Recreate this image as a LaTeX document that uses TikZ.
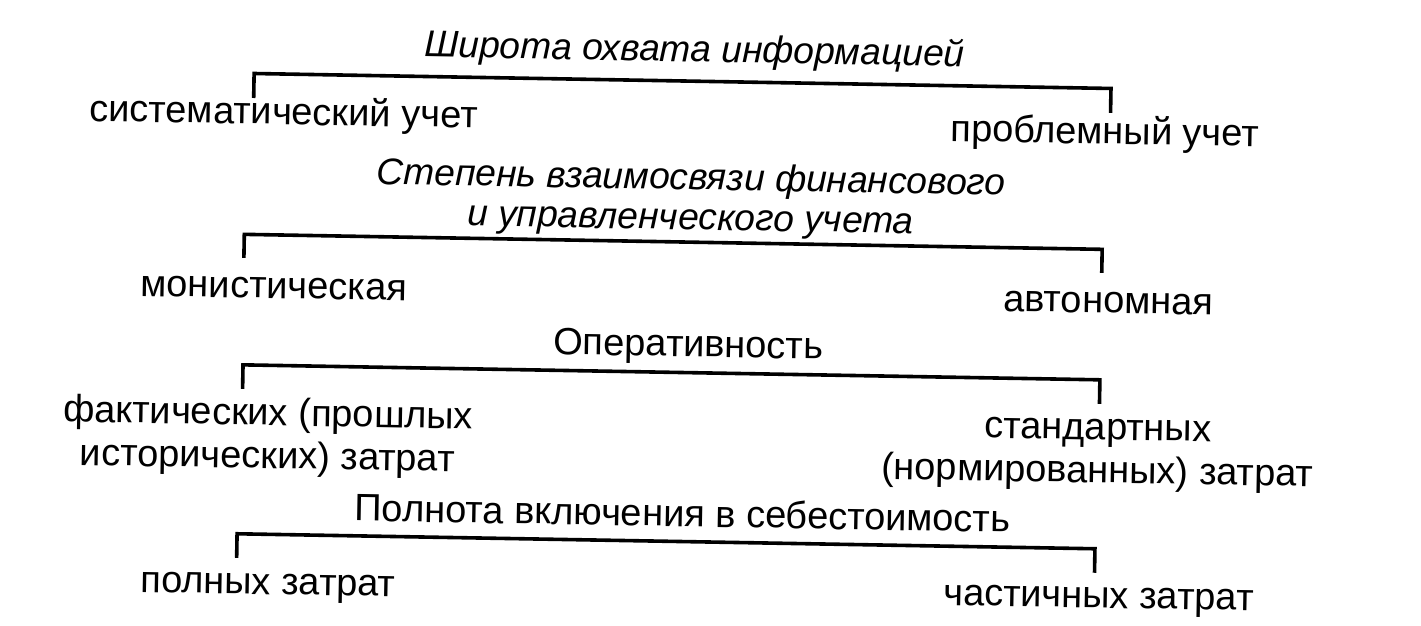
\documentclass[tikz,border=0pt]{standalone}
\usepackage{fontspec}
\setmainfont{Liberation Sans}

\begin{document}
\begin{tikzpicture}[x=0.5pt,y=-0.5pt,
    txt/.style={inner sep=0pt,font=\fontsize{19}{21.5}\selectfont},
    ttl/.style={txt,align=center,anchor=base},
    ital/.style={font=\fontsize{18.6}{20}\selectfont\itshape},
    kid/.style={txt,anchor=base west},
    brk/.style={line width=1.8pt}]
  \useasboundingbox (0,0) rectangle (1421,626);
  \begin{scope}[rotate around={-1:(710,313)},transform shape]
    % Широта охвата информацией
    \node[ttl,ital] (wide) at (690,62) {Широта охвата информацией};
    \node[kid] (syst) at (86,132) {систематический учет};
    \node[kid] (probl) at (947,137) {проблемный учет};
    \coordinate (wl) at (250,106);
    \coordinate (wr) at (1107,106);
    \draw[brk] (wl) -- ++(0,-24.5) -| (wr);

    % Степень взаимосвязи
    \node[ttl,ital] (link) at (689,230) {Степень взаимосвязи финансового\\и управленческого учета};
    \node[kid] (monist) at (140,306) {монистическая};
    \node[kid] (auton) at (1003,306) {автономная};
    \coordinate (ll) at (243,266);
    \coordinate (lr) at (1101,266);
    \draw[brk] (ll) -- ++(0,-23.5) -| (lr);

    % Оперативность
    \node[ttl] (oper) at (689,357) {Оперативность};
    \node[ttl,txt] (fact) at (270,476) {фактических (прошлых\\исторических) затрат};
    \node[ttl,txt] (std) at (1100,476) {стандартных\\(нормированных) затрат};
    \coordinate (ol) at (244,397);
    \coordinate (or) at (1101,397);
    \draw[brk] (ol) -- ++(0,-24) -| (or);

    % Полнота включения в себестоимость
    \node[ttl] (full) at (686,527) {Полнота включения в себестоимость};
    \node[kid] (whole) at (145,602) {полных затрат};
    \node[kid] (part) at (948,601) {частичных затрат};
    \coordinate (fl) at (241,566);
    \coordinate (fr) at (1099,566);
    \draw[brk] (fl) -- ++(0,-24) -| (fr);
  \end{scope}
\end{tikzpicture}
\end{document}
